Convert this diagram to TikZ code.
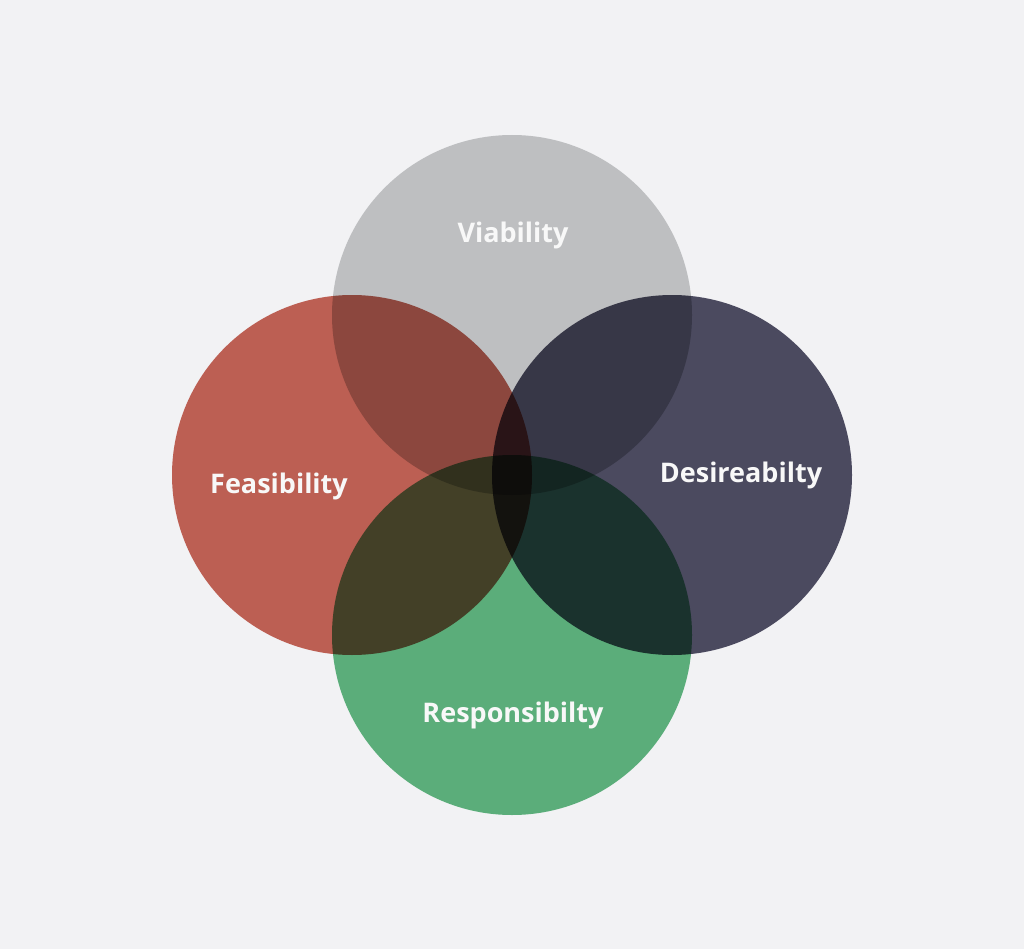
\documentclass[tikz,border=0pt]{standalone}
\usepackage{fontspec}
\setsansfont{Open Sans}
\usepackage{tikz}
\usetikzlibrary{positioning}
\definecolor{pagebg}{RGB}{242,242,244}
\definecolor{viagray}{RGB}{190,191,193}
\definecolor{feasred}{RGB}{188,95,83}
\definecolor{desnavy}{RGB}{75,74,95}
\definecolor{respgreen}{RGB}{91,173,122}
\definecolor{labeltext}{RGB}{248,248,248}
\tikzset{
  disc/.style={circle,minimum size=360pt,inner sep=0pt,draw=none},
  lbl/.style={font=\sffamily\bfseries\fontsize{27}{33}\selectfont,text=labeltext,inner sep=0pt},
}

\begin{document}
\begin{tikzpicture}[x=1pt,y=-1pt]
  % page
  \fill[pagebg] (0,0) rectangle (1024,949);
  \useasboundingbox (0,0) rectangle (1024,949);
  % the four circles, multiplied where they overlap
  \begin{scope}[blend group=multiply]
    \node[disc,fill=viagray] (via) at (512,315) {};
    \node[disc,fill=feasred] (feas) at (352,475) {};
    \node[disc,fill=desnavy] (des) at (672,475) {};
    \node[disc,fill=respgreen] (resp) at (512,635) {};
  \end{scope}
  % labels
  \node[lbl] (lvia) at (513,235) {Viability};
  \node[lbl] (lfeas) at (279,486) {Feasibility};
  \node[lbl] (ldes) at (741,475) {Desireabilty};
  \node[lbl] (lresp) at (513,715) {Responsibilty};
\end{tikzpicture}
\end{document}
